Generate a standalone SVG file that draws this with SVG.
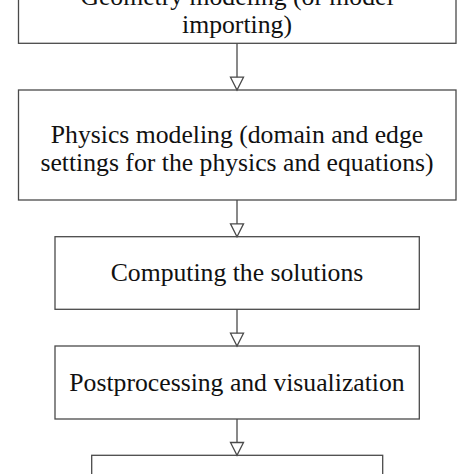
<svg xmlns="http://www.w3.org/2000/svg" width="474" height="474" viewBox="0 0 474 474">
<style>
.box{fill:#fff;stroke:#4a4a4a;stroke-width:1.3}
.lbl{font-family:"Liberation Serif","Times New Roman",serif;font-size:25.7px;fill:#111;text-anchor:middle}
.conn{stroke:#4a4a4a;stroke-width:1.3;fill:none}
</style>
<defs>
<marker id="arr" markerUnits="userSpaceOnUse" viewBox="-1 -1 16 16" markerWidth="16" markerHeight="16" refX="13.3" refY="7" orient="auto">
<path d="M0.5,0.5 L13.3,7 L0.5,13.5 Z" fill="#fff" stroke="#4a4a4a" stroke-width="1.3"/>
</marker>
</defs>
<rect width="474" height="474" fill="#fff"/>
<g id="node1">
<rect class="box" x="18.5" y="-67" width="437.5" height="110.3"/>
<text class="lbl" x="237" y="4.8">Geometry modeling (or model</text>
<text class="lbl" x="237" y="32.8">importing)</text>
</g>
<g id="node2">
<rect class="box" x="18.5" y="90" width="437.5" height="110"/>
<text class="lbl" x="237" y="142.8">Physics modeling (domain and edge</text>
<text class="lbl" x="237" y="170.8">settings for the physics and equations)</text>
</g>
<g id="node3">
<rect class="box" x="55" y="236.7" width="364.3" height="72.6"/>
<text class="lbl" x="237" y="280.7">Computing the solutions</text>
</g>
<g id="node4">
<rect class="box" x="55" y="346" width="364.3" height="73"/>
<text class="lbl" x="237" y="390.7">Postprocessing and visualization</text>
</g>
<g id="node5">
<rect class="box" x="91.7" y="455.3" width="291" height="40"/>
</g>
<g id="connectors">
<path class="conn" d="M237,43.3 V90" marker-end="url(#arr)"/>
<path class="conn" d="M237,200 V236.7" marker-end="url(#arr)"/>
<path class="conn" d="M237,309.3 V346" marker-end="url(#arr)"/>
<path class="conn" d="M237,419 V455.3" marker-end="url(#arr)"/>
</g>
</svg>
